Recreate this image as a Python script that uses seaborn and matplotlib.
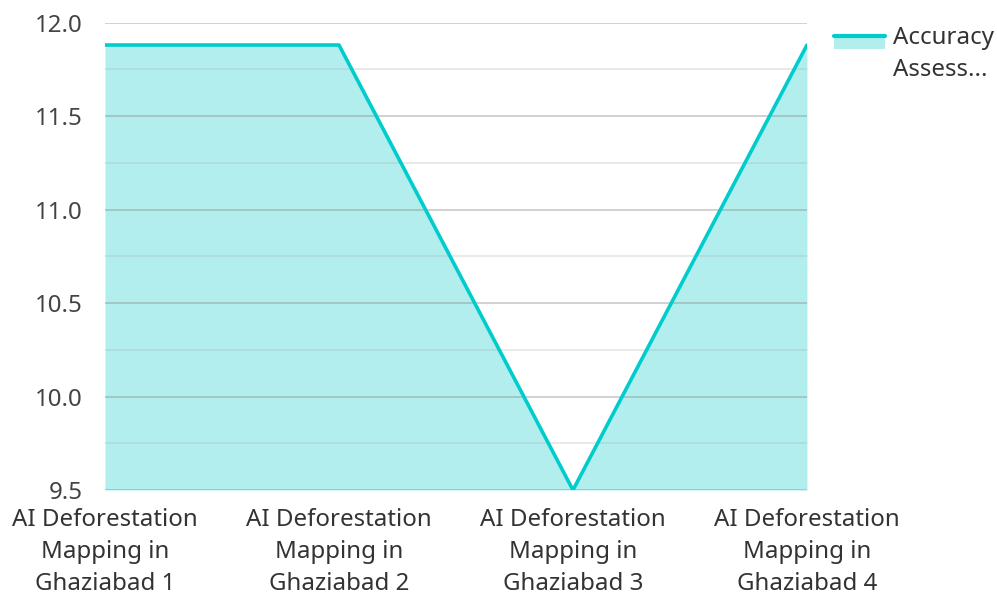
import matplotlib
matplotlib.use("Agg")
import matplotlib.pyplot as plt
import seaborn as sns
import pandas as pd
from matplotlib.ticker import MultipleLocator
from matplotlib.patches import Rectangle
from matplotlib.lines import Line2D
from matplotlib.legend_handler import HandlerBase

categories = [
    "AI Deforestation\nMapping in\nGhaziabad 1",
    "AI Deforestation\nMapping in\nGhaziabad 2",
    "AI Deforestation\nMapping in\nGhaziabad 3",
    "AI Deforestation\nMapping in\nGhaziabad 4",
]
accuracy = [11.88, 11.88, 9.5, 11.88]
series_name = "Accuracy\nAssess..."

line_color = "#00cccc"
fill_color = "#b2eeee"


class AreaHandler(HandlerBase):
    # line on top with the fill hanging underneath, aligned with the first text line
    def create_artists(self, legend, orig_handle, xdescent, ydescent,
                       width, height, fontsize, trans):
        line_y = height * 0.75 + 0.62 * fontsize - ydescent
        patch_h = 0.55 * fontsize
        rect = Rectangle((-xdescent, line_y - patch_h), width, patch_h,
                         facecolor=fill_color, edgecolor="none", transform=trans)
        line = Line2D([-xdescent, -xdescent + width], [line_y, line_y],
                      color=line_color, linewidth=3.0, transform=trans)
        return [rect, line]


sns.set_style("white")
plt.rcParams['font.family'] = ['Noto Sans', 'DejaVu Sans']

df = pd.DataFrame({"x": range(len(categories)), "y": accuracy})

fig = plt.figure(figsize=(9.97, 5.94), dpi=100)
ax = fig.add_axes([0.1053, 0.175, 0.7041, 0.787])

ax.fill_between(df["x"], df["y"], 9.5, color=fill_color, linewidth=0, zorder=1)
sns.lineplot(data=df, x="x", y="y", ax=ax, color=line_color, linewidth=2.6, zorder=3)

ax.set_xlim(0, len(categories) - 1)
ax.set_ylim(9.5, 12.0)
ax.yaxis.set_major_locator(MultipleLocator(0.5))
ax.yaxis.set_minor_locator(MultipleLocator(0.25))
ax.grid(which="major", axis="y", color="#888888", alpha=0.45, linewidth=1.2, zorder=2)
ax.grid(which="minor", axis="y", color="#aaaaaa", alpha=0.3, linewidth=1.2, zorder=2)
ax.set_axisbelow(False)

ax.set_xticks(range(len(categories)))
ax.set_xticklabels(categories, fontsize=17.3, color="#333333", linespacing=1.43)
ax.tick_params(axis="y", which="both", labelsize=17.3, labelcolor="#444444", length=0, pad=16)
ax.tick_params(axis="x", length=0, pad=13)
ax.set_yticklabels([f"{v:.1f}" for v in ax.get_yticks()])
ax.set_xlabel("")
ax.set_ylabel("")
sns.despine(ax=ax, left=True, bottom=True)

leg = ax.legend(
    [object()], [series_name],
    handler_map={object: AreaHandler()},
    loc="upper left", bbox_to_anchor=(1.008, 1.038), frameon=False,
    fontsize=17.3, handlelength=2.1, handletextpad=0.35, labelcolor="#333333",
)
for t in leg.get_texts():
    t.set_linespacing(1.43)

fig.savefig("out.png", dpi=100)
